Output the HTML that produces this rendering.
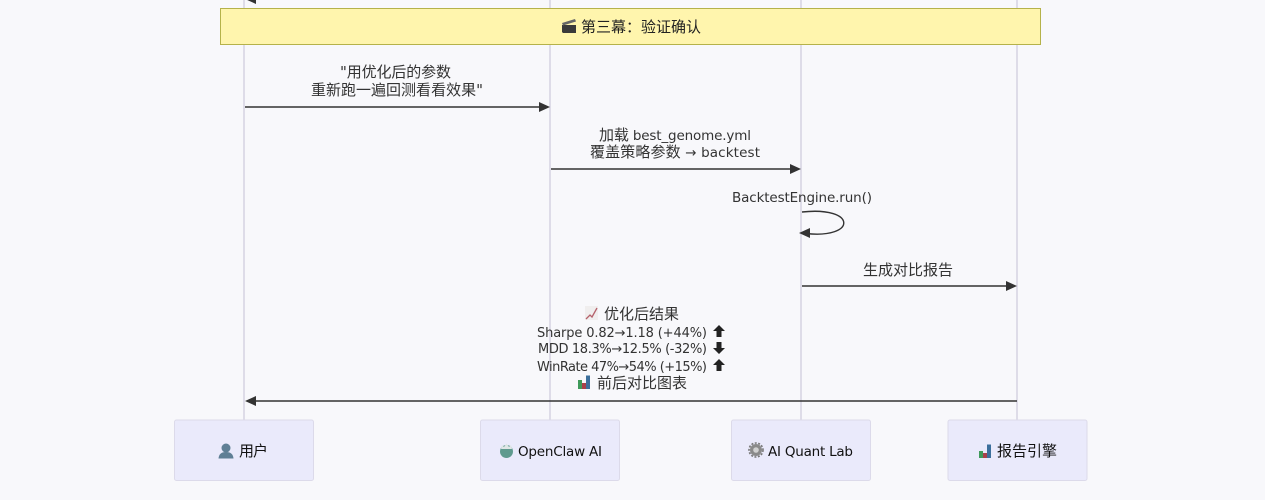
<!DOCTYPE html>
<html lang="zh">
<head>
<meta charset="utf-8">
<title>第三幕：验证确认</title>
<style>
html,body{margin:0;padding:0;width:1265px;height:500px;overflow:hidden;background:#f8f8fb}
svg{display:block}
text{font-family:"DejaVu Sans","Noto Sans CJK SC",sans-serif;font-size:13.5px;fill:#333;text-anchor:start}
.c{font-size:15px}
.a{fill:#222}
</style>
</head>
<body>
<svg width="1265" height="500" viewBox="0 0 1265 500" xmlns="http://www.w3.org/2000/svg">
<rect width="1265" height="500" fill="#f8f8fb"/>
<g stroke="#d7d5e3" stroke-width="1.6">
<line x1="244" y1="0" x2="244" y2="420"/>
<line x1="550" y1="0" x2="550" y2="420"/>
<line x1="801" y1="0" x2="801" y2="420"/>
<line x1="1017" y1="0" x2="1017" y2="420"/>
</g>
<polygon points="245,-1 256,-6 256,4" fill="#333"/>

<rect x="220.500" y="8.500" width="820" height="36" fill="#fff5ad" stroke="#b5b24a"/>
<g transform="translate(562,19)">
<polygon points="0,6 14,6 14,14 1,14 0,13" fill="#3a3a3a"/>
<polygon points="0,4 13,0 14,2.500 1,6.500" fill="#666"/>
</g>
<text x="581" y="32" textLength="120" class="c" style="fill:#222">第三幕：验证确认</text>

<text x="340" y="77" textLength="111" class="c">"用优化后的参数</text>
<text x="311" y="95" textLength="172" class="c">重新跑一遍回测看看效果"</text>
<line x1="245" y1="107" x2="541" y2="107" stroke="#333" stroke-width="1.5"/>
<polygon points="550,107 539,102 539,112" fill="#333"/>

<text x="599" y="140" textLength="152"><tspan class="c">加载</tspan> best_genome.yml</text>
<text x="590" y="157" textLength="170"><tspan class="c">覆盖策略参数</tspan> → backtest</text>
<line x1="551" y1="169" x2="792" y2="169" stroke="#333" stroke-width="1.5"/>
<polygon points="801,169 790,164 790,174" fill="#333"/>

<text x="732" y="202" textLength="140">BacktestEngine.run()</text>
<path d="M802 212 C857 206 857 239 806 233.500" fill="none" stroke="#333" stroke-width="1.4"/>
<polygon points="799,233 810,228 810,238" fill="#333"/>

<text x="863" y="275" textLength="90" class="c">生成对比报告</text>
<line x1="802" y1="286" x2="1008" y2="286" stroke="#333" stroke-width="1.5"/>
<polygon points="1017,286 1006,281 1006,291" fill="#333"/>

<rect x="585" y="306" width="13" height="14" fill="#f0eeee"/>
<polyline points="586,319 590,315 592,317 597,308" fill="none" stroke="#b5616b" stroke-width="1.3"/>
<text x="604" y="319" textLength="75" class="c">优化后结果</text>

<text x="537" y="337" textLength="170" style="font-size:13px">Sharpe 0.82→1.18 (+44%)</text>
<polygon class="a" points="719,325 725,331 721.500,331 721.500,337 716.500,337 716.500,331 713,331"/>
<text x="538" y="353" textLength="169" style="font-size:13px">MDD 18.3%→12.5% (-32%)</text>
<polygon class="a" points="719,354 725,348 721.500,348 721.500,342 716.500,342 716.500,348 713,348"/>
<text x="537" y="371" textLength="170" style="font-size:13px">WinRate 47%→54% (+15%)</text>
<polygon class="a" points="719,359 725,365 721.500,365 721.500,371 716.500,371 716.500,365 713,365"/>

<rect x="578" y="380" width="4" height="9" fill="#3f9a5a"/>
<rect x="582" y="383" width="4" height="6" fill="#a8414a"/>
<rect x="586" y="375.500" width="4" height="13.500" fill="#3b6f9c"/>
<text x="597" y="388" textLength="90" class="c">前后对比图表</text>
<line x1="254" y1="401" x2="1017" y2="401" stroke="#333" stroke-width="1.5"/>
<polygon points="245,401 256,396 256,406" fill="#333"/>

<g fill="#eaeafb" stroke="#dcdaea" stroke-width="1">
<rect x="174.500" y="420" width="139" height="60.500" rx="2"/>
<rect x="480.500" y="420" width="139" height="60.500" rx="2"/>
<rect x="731.500" y="420" width="139" height="60.500" rx="2"/>
<rect x="948" y="420" width="139" height="60.500" rx="2"/>
</g>

<circle cx="226" cy="448" r="4.500" fill="#5f7f95"/>
<path d="M218.500 458.500 Q219 452 226 452 Q233 452 233.500 458.500 Z" fill="#5f7f95"/>
<text x="239" y="456" textLength="29" class="c" style="fill:#111">用户</text>

<circle cx="506.500" cy="451.500" r="6.500" fill="#5f9a8e"/>
<polygon points="501,449 502,445 504,447 506.500,443.500 509,447 511,445 512,449" fill="#dfe6e6"/>
<text x="518" y="456" textLength="84" style="fill:#111">OpenClaw AI</text>

<circle cx="756" cy="450" r="6" fill="#8a8a8a"/>
<circle cx="756" cy="450" r="7" fill="none" stroke="#777" stroke-width="1.600" stroke-dasharray="2 1.500"/>
<circle cx="756" cy="450" r="2.800" fill="#d0d0d0"/>
<text x="768" y="456" textLength="85" style="fill:#111">AI Quant Lab</text>

<rect x="979" y="451" width="4" height="7" fill="#3f9a5a"/>
<rect x="983" y="453" width="4" height="5" fill="#a8414a"/>
<rect x="987" y="444.500" width="4" height="13.500" fill="#3b6f9c"/>
<text x="997" y="456" textLength="60" class="c" style="fill:#111">报告引擎</text>
</svg>
</body>
</html>
